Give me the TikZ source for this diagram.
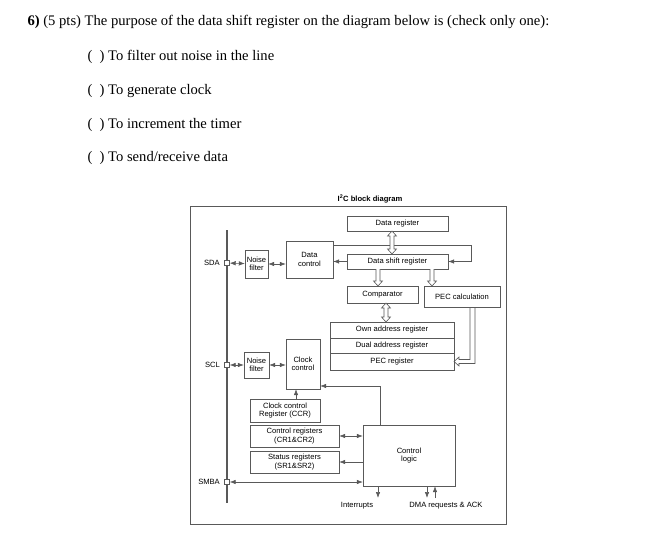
\documentclass[tikz,border=0pt]{standalone}
\usepackage{fontspec}
\setmainfont{Liberation Serif}
\newfontfamily\diag{Liberation Sans}
\usetikzlibrary{arrows.meta}
% hollow bus arrows: x, top y, bottom y
\newcommand\busdown[3]{\draw[bus] (#1-2,#2) -- (#1-2,#3-5) -- (#1-4.5,#3-5) -- (#1,#3) -- (#1+4.5,#3-5) -- (#1+2,#3-5) -- (#1+2,#2);}
\newcommand\busboth[3]{\draw[bus] (#1,#2) -- (#1-4.5,#2+5) -- (#1-2,#2+5) -- (#1-2,#3-5) -- (#1-4.5,#3-5) -- (#1,#3) -- (#1+4.5,#3-5) -- (#1+2,#3-5) -- (#1+2,#2+5) -- (#1+4.5,#2+5) -- cycle;}
\begin{document}
\begin{tikzpicture}[x=1pt,y=-1pt,
	blk/.style={draw,gray!70!black,inner sep=0pt,font=\diag\fontsize{7.6}{8.4}\selectfont,align=center,text=black},
	pin/.style={draw,gray!70!black,fill=white,inner sep=0pt,minimum size=5pt},
	wire/.style={gray!70!black,line width=0.6pt},
	tip/.style={wire,-{Latex[length=6pt,width=4.5pt]}},
	bi/.style={wire,{Latex[length=6pt,width=4.5pt]}-{Latex[length=6pt,width=4.5pt]}},
	bus/.style={gray!70!black,line width=0.6pt,fill=white},
	qtext/.style={anchor=west,font=\fontsize{14.6}{16}\selectfont}
]
	\useasboundingbox (0,0) rectangle (654,543);

	% question
	\node[qtext] at (24,22) {\textbf{6)} (5 pts) The purpose of the data shift register on the diagram below is (check only one):};
	\foreach \y/\t in {57/{To filter out noise in the line}, 91/{To generate clock}, 125/{To increment the timer}, 158/{To send/receive data}}
		\node[qtext] at (84,\y) {(\enspace) \t};

	% frame
	\node[font=\diag\bfseries\fontsize{7.6}{8.4}\selectfont] (title) at (370,199) {I\textsuperscript{2}C block diagram};
	\draw[gray!70!black] (190,206) rectangle (506,524);
	\draw[gray!70!black,line width=1.2pt] (227,230) -- (227,503);

	% blocks
	\node[blk,minimum width=101,minimum height=15] (dreg) at (397.5,223.5) {Data register};
	\node[blk,minimum width=101,minimum height=15] (dsr) at (397.5,261.5) {Data shift register};
	\node[blk,minimum width=71,minimum height=17] (comp) at (382.5,294.5) {Comparator};
	\node[blk,minimum width=76,minimum height=21] (pec) at (462,296.5) {PEC calculation};
	\node[blk,minimum width=124,minimum height=16] (own) at (392,330) {Own address register};
	\node[blk,minimum width=124,minimum height=15] (dual) at (392,345.5) {Dual address register};
	\node[blk,minimum width=124,minimum height=17] (pecreg) at (392,361.5) {PEC register};
	\node[blk,minimum width=23,minimum height=28] (nf1) at (256.5,264) {Noise\\filter};
	\node[blk,minimum width=25,minimum height=26] (nf2) at (256.5,365) {Noise\\filter};
	\node[blk,minimum width=47,minimum height=37] (dctl) at (309.5,259.5) {Data\\control};
	\node[blk,minimum width=34,minimum height=50] (cctl) at (303,364) {Clock\\control};
	\node[blk,minimum width=70,minimum height=23] (ccr) at (285,410.5) {Clock control\\Register (CCR)};
	\node[blk,minimum width=89,minimum height=22] (creg) at (294.5,436) {Control registers\\(CR1\&CR2)};
	\node[blk,minimum width=89,minimum height=22] (sreg) at (294.5,462) {Status registers\\(SR1\&SR2)};
	\node[blk,minimum width=92,minimum height=61] (logic) at (409,455.5) {Control\\logic};

	% pins
	\node[pin] (sda) at (227,263) {};
	\node[pin] (scl) at (227,365) {};
	\node[pin] (smba) at (227,482) {};
	\node[blk,draw=none,anchor=east] at (220,263) {SDA};
	\node[blk,draw=none,anchor=east] at (220,365) {SCL};
	\node[blk,draw=none,anchor=east] at (220,482) {SMBA};
	\node[blk,draw=none] (irq) at (357,506) {Interrupts};
	\node[blk,draw=none] (dma) at (446,506) {DMA requests \& ACK};

	% connectors
	\draw[bi] (sda) -- (nf1);
	\draw[bi] (nf1) -- (dctl.west |- nf1);
	\draw[bi] (scl) -- (nf2);
	\draw[bi] (nf2) -- (cctl.west |- nf2);
	\draw[tip] (dsr.west) -- (dctl.east |- dsr.west);
	\draw[tip] (dctl.east |- 0,245) -- (471,245) -- (471,261.5) -- (dsr.east);
	\busboth{392}{231}{254}
	\busdown{378}{269}{286}
	\busdown{432}{269}{286}
	\busboth{386}{303}{322}
	\draw[bus,fill=none] (470,307) -- (470,359.5) -- (459,359.5) -- (459,357) -- (454,361.5) -- (459,366) -- (459,363.5) -- (475,363.5) -- (475,307);
	\draw[tip] (ccr.north -| 296,0) -- (cctl.south -| 296,0);
	\draw[tip] (logic.north -| 380,0) -- (380,386) -- (cctl.east |- 0,386);
	\draw[bi] (creg.east) -- (logic.west |- creg.east);
	\draw[tip] (logic.west |- sreg.east) -- (sreg.east);
	\draw[bi] (smba) -- (logic.west |- smba);
	\draw[tip] (logic.south -| 378,0) -- (378,498);
	\draw[tip] (logic.south -| 427,0) -- (427,498);
	\draw[tip] (435,498) -- (logic.south -| 435,0);
\end{tikzpicture}
\end{document}
